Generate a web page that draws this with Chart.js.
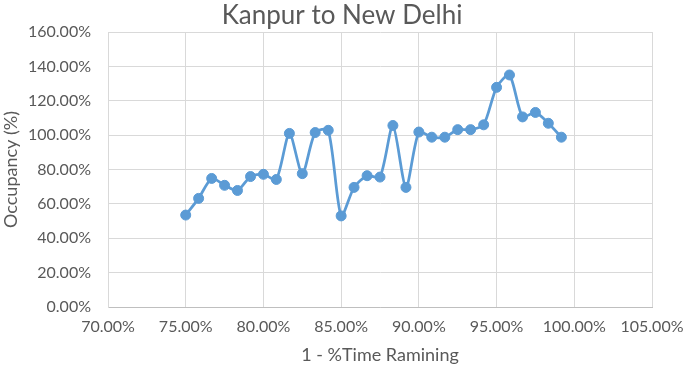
<!DOCTYPE html>
<html lang="en">
<head>
  <meta charset="UTF-8">
  <title>Kanpur to New Delhi</title>
  <script src="https://cdn.jsdelivr.net/npm/chart.js"></script>
  <style>
    body {
      margin: 0;
      padding: 0;
      background: #ffffff;
    }
    #wrap {
      width: 685px;
      height: 373px;
    }
  </style>
</head>
<body>
  <div id="wrap">
    <canvas id="occChart"></canvas>
  </div>

  <script>
    // 1 - %Time Remaining (in %)
    const timeDone = [
      75.00, 75.83, 76.67, 77.50, 78.33, 79.17, 80.00, 80.83, 81.67, 82.50,
      83.33, 84.17, 85.00, 85.83, 86.67, 87.50, 88.33, 89.17, 90.00, 90.83,
      91.67, 92.50, 93.33, 94.17, 95.00, 95.83, 96.67, 97.50, 98.33, 99.17
    ];
    // Occupancy (%)
    const occupancy = [
      53.5, 63.2, 74.8, 70.8, 67.8, 75.9, 77.2, 74.2, 101.0, 77.6,
      101.5, 102.8, 53.0, 69.6, 76.4, 75.6, 105.6, 69.6, 101.8, 98.8,
      98.8, 103.2, 103.2, 106.0, 127.8, 135.0, 110.6, 113.2, 106.9, 98.8
    ];

    const xTicks = [70, 75, 80, 85, 90, 95, 100, 105];

    const points = timeDone.map((x, i) => ({ x: x, y: occupancy[i] }));

    const gray = '#595959';
    const blue = '#5B9BD5';
    const fontFam = 'Lato, "Open Sans", sans-serif';

    // Excel puts the title over the whole chart box, a bit right of the canvas centre
    const titlePlugin = {
      id: 'chartTitle',
      afterDraw(chart) {
        const ctx = chart.ctx;
        ctx.save();
        ctx.fillStyle = gray;
        ctx.font = '26px ' + fontFam;
        ctx.textAlign = 'center';
        ctx.textBaseline = 'middle';
        ctx.fillText('Kanpur to New Delhi', 342, 16);
        ctx.restore();
      }
    };

    new Chart(document.getElementById('occChart').getContext('2d'), {
      type: 'scatter',
      data: {
        datasets: [{
          label: 'Occupancy',
          data: points,
          showLine: true,
          borderColor: blue,
          backgroundColor: blue,
          borderWidth: 2.75,
          tension: 0.25,
          pointRadius: 5,
          pointBorderWidth: 1,
          pointBorderColor: blue,
          pointBackgroundColor: blue
        }]
      },
      plugins: [titlePlugin],
      options: {
        responsive: true,
        maintainAspectRatio: false,
        animation: false,
        layout: {
          padding: { top: 32, right: 33, bottom: 0, left: 0 }
        },
        plugins: {
          legend: { display: false },
          tooltip: { enabled: false },
          title: { display: false }
        },
        scales: {
          x: {
            type: 'linear',
            min: 70,
            max: 105,
            afterBuildTicks: (axis) => {
              axis.ticks = xTicks.map(v => ({ value: v }));
            },
            afterFit: (axis) => {
              axis.height = 66;
              // let the layout padding decide the right edge
              axis.paddingLeft = 0;
              axis.paddingRight = 0;
            },
            grid: { color: '#D9D9D9', lineWidth: 1, drawTicks: false },
            border: { color: '#BFBFBF', width: 1 },
            ticks: {
              color: gray,
              padding: 10,
              maxRotation: 0,
              font: { family: fontFam, size: 16 },
              callback: (v) => v.toFixed(2) + '%'
            },
            title: {
              display: true,
              text: '1 - %Time Ramining',
              color: gray,
              font: { family: fontFam, size: 18 },
              padding: { top: 0, bottom: 7 }
            }
          },
          y: {
            min: 0,
            max: 160,
            afterFit: (axis) => { axis.width = 108; },
            grid: { color: '#D9D9D9', lineWidth: 1, drawTicks: false },
            border: { color: '#D9D9D9', width: 1 },
            ticks: {
              stepSize: 20,
              color: gray,
              padding: 17,
              font: { family: fontFam, size: 16 },
              callback: (v) => v.toFixed(2) + '%'
            },
            title: {
              display: true,
              text: 'Occupancy (%)',
              color: gray,
              font: { family: fontFam, size: 18 },
              padding: { top: 0, bottom: 0 }
            }
          }
        }
      }
    });
  </script>
</body>
</html>
